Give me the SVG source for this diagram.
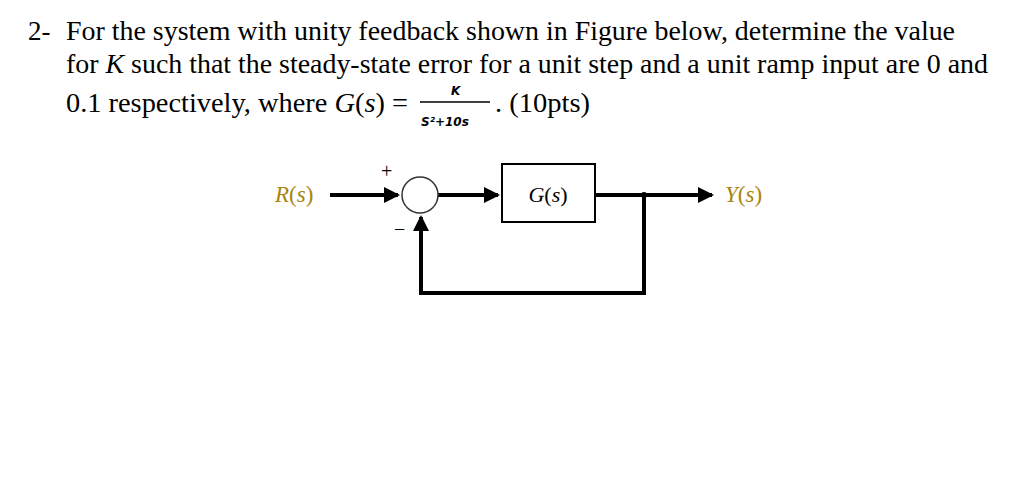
<svg xmlns="http://www.w3.org/2000/svg" width="1024" height="477" viewBox="0 0 1024 477">
<style>
.t{font-family:"Liberation Serif",serif;font-size:27px;fill:#000}
.m{font-family:"Liberation Serif",serif;font-style:italic}
.s{font-family:"DejaVu Sans",sans-serif;font-style:italic;font-weight:bold;font-size:12px}
.w{stroke:#000;stroke-width:4;fill:none}
.lbl{font-family:"Liberation Serif",serif;font-size:23px;fill:#a8850c}
</style>
<defs><marker id="a" markerWidth="4" markerHeight="4" refX="3.5" refY="2" orient="auto"><path d="M0,0L4,2L0,4z" fill="#000"/></marker></defs>
<rect width="1024" height="477" fill="#fff"/>
<text class="t" x="28" y="40">2-</text>
<text class="t" x="66" y="40" textLength="889" lengthAdjust="spacingAndGlyphs">For the system with unity feedback shown in Figure below, determine the value</text>
<text class="t" x="66" y="73" textLength="922" lengthAdjust="spacingAndGlyphs">for <tspan class="m">K</tspan> such that the steady-state error for a unit step and a unit ramp input are 0 and</text>
<text class="t" x="66" y="112" textLength="342" lengthAdjust="spacingAndGlyphs">0.1 respectively, where <tspan class="m">G</tspan>(<tspan class="m">s</tspan>) =</text>
<text class="s" x="451" y="95">K</text>
<line x1="420" y1="102" x2="490" y2="102" stroke="#000" stroke-width="1.5"/>
<text class="s" x="421" y="126">S²+10s</text>
<text class="t" x="495" y="112" textLength="95" lengthAdjust="spacingAndGlyphs">. (10pts)</text>
<g id="connectors">
<line class="w" x1="330" y1="195" x2="398" y2="195" marker-end="url(#a)"/>
<line class="w" x1="438" y1="195" x2="498" y2="195" marker-end="url(#a)"/>
<line class="w" x1="595" y1="195" x2="712" y2="195" marker-end="url(#a)"/>
<polyline class="w" points="644,195 644,293 421,293 421,217" marker-end="url(#a)"/>
<circle cx="644" cy="195" r="3" fill="#000"/>
</g>
<g id="sum"><circle cx="420" cy="195" r="18" fill="#fff" stroke="#333" stroke-width="1.5"/>
<text x="381" y="178" font-family="Liberation Serif,serif" font-size="20">+</text>
<text x="394" y="236" font-family="Liberation Serif,serif" font-size="20">−</text></g>
<g id="G"><rect x="502" y="164" width="93" height="58" fill="#fff" stroke="#000" stroke-width="2"/>
<text x="548" y="202" text-anchor="middle" font-family="Liberation Serif,serif" font-size="22"><tspan font-style="italic">G</tspan>(<tspan font-style="italic">s</tspan>)</text></g>
<g id="R"><text class="lbl" x="275" y="202"><tspan font-style="italic">R</tspan>(<tspan font-style="italic">s</tspan>)</text></g>
<g id="Y"><text class="lbl" x="725" y="202"><tspan font-style="italic">Y</tspan>(<tspan font-style="italic">s</tspan>)</text></g>
</svg>
